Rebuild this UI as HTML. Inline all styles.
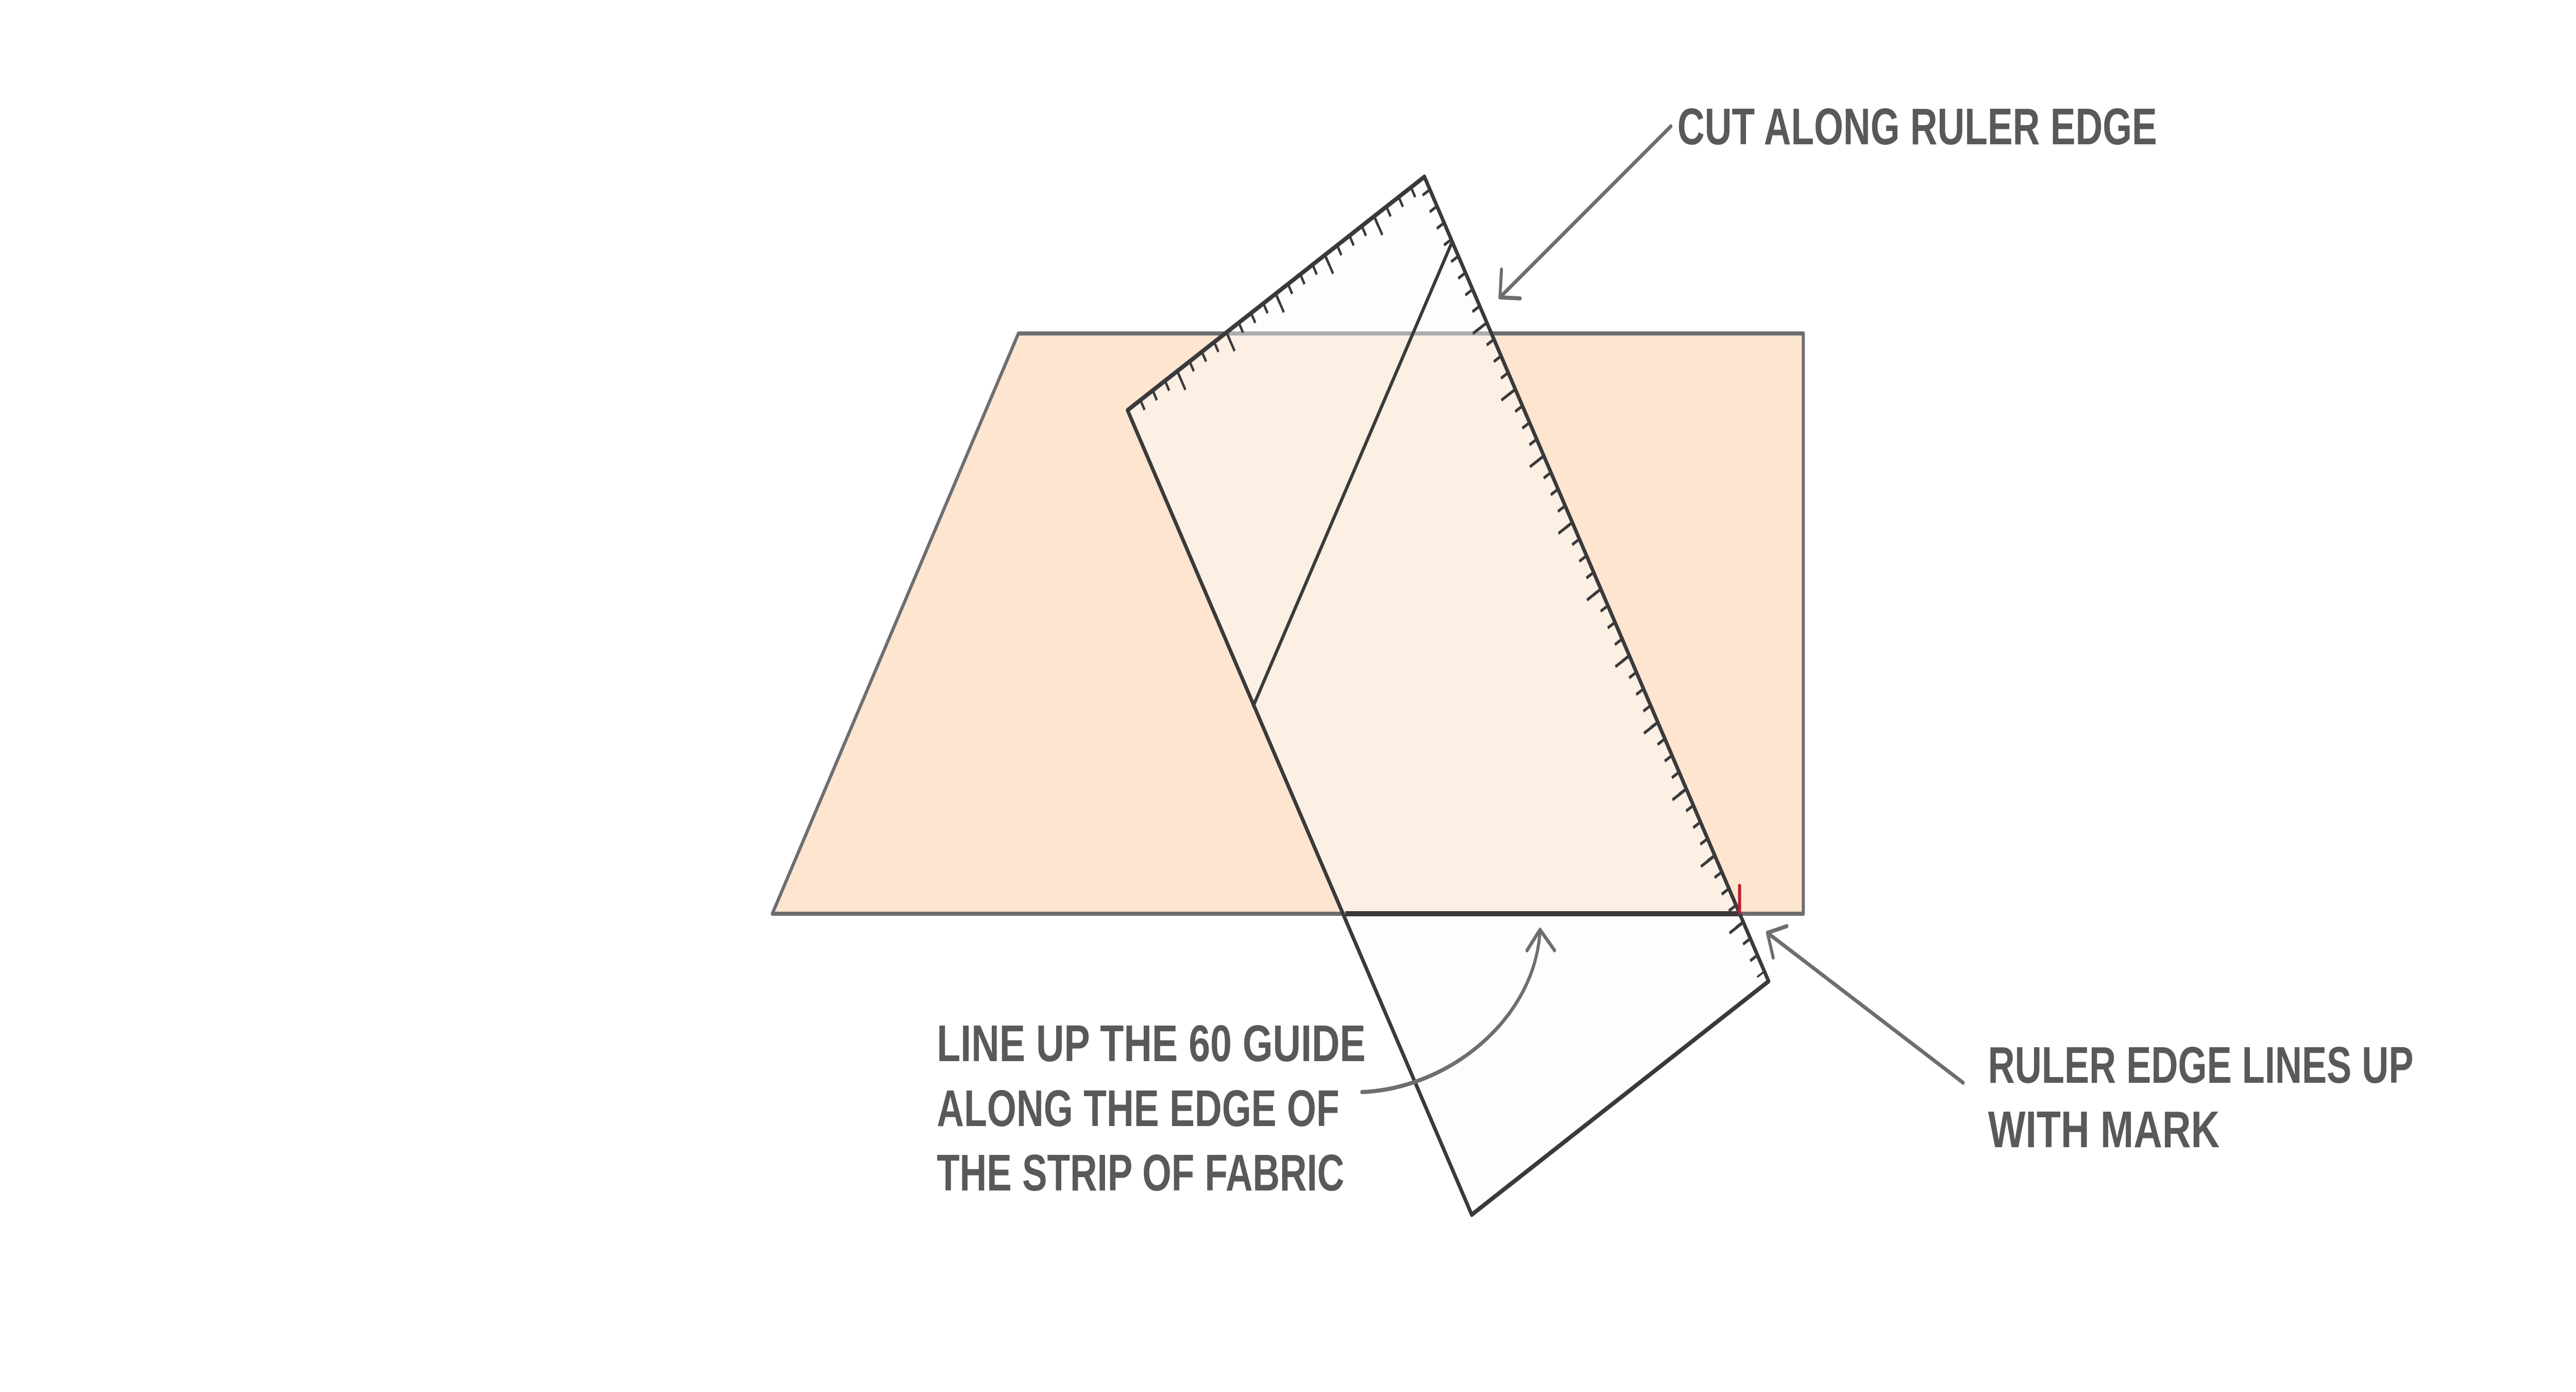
<!DOCTYPE html>
<html><head><meta charset="utf-8"><style>
html,body{margin:0;padding:0;background:#fff;width:100%;height:100%;overflow:hidden}
svg{display:block;width:100vw;height:100vh}
text{font-family:"Liberation Sans",sans-serif;font-weight:bold;fill:#58595b;font-size:100px}
</style></head><body>
<svg viewBox="0 0 6751 2701" preserveAspectRatio="none" xmlns="http://www.w3.org/2000/svg">
<rect width="6751" height="2701" fill="#fff"/>
<polygon points="2669,647 4726,647 4726,1773 2024,1773" fill="#fde5d0" stroke="#6d6e71" stroke-width="8" stroke-linejoin="round"/>
<polygon points="3733,343 4635,1904 3857,2357 2955,796" fill="#fbfbfb" fill-opacity="0.45" stroke="#3a3a3c" stroke-width="9" stroke-linejoin="round"/>
<g stroke="#3a3a3c" fill="none">
<line x1="3736.3" y1="370.7" x2="4615.5" y2="1892.2" stroke-width="22" stroke-dasharray="6 31.3"/>
<line x1="3876.7" y1="634.2" x2="4606.8" y2="1897.3" stroke-width="42" stroke-dasharray="6 143.3"/>
<line x1="2991.6" y1="787.4" x2="3721.2" y2="362.6" stroke-width="22" stroke-dasharray="6 31.3"/>
<line x1="3093.4" y1="739.7" x2="3726.2" y2="371.3" stroke-width="42" stroke-dasharray="6 143.3"/>
</g>
<line x1="3803" y1="474" x2="3285" y2="1369" stroke="#3a3a3c" stroke-width="8" stroke-linecap="round"/>
<line x1="3526" y1="1773" x2="4563" y2="1773" stroke="#3a3a3c" stroke-width="10"/>
<line x1="4559" y1="1719" x2="4559" y2="1770" stroke="#be1e2d" stroke-width="8" stroke-linecap="round"/>
<g stroke="#6d6e71" stroke-width="8" fill="none" stroke-linecap="round" stroke-linejoin="round">
<line x1="4379" y1="245" x2="3931" y2="577"/>
<polyline points="3935,523 3931,577 3984,579"/>
<line x1="5145" y1="2101" x2="4632" y2="1810"/>
<polyline points="4683,1797 4632,1810 4647,1858"/>
<path d="M3569,2119 C3800,2112 4025,1975 4036,1804"/>
<polyline points="4002,1844 4036,1804 4074,1844"/>
</g>
<text x="4396" y="280" textLength="1257" lengthAdjust="spacingAndGlyphs">CUT ALONG RULER EDGE</text>
<text x="5210" y="2101" textLength="1115" lengthAdjust="spacingAndGlyphs">RULER EDGE LINES UP</text>
<text x="5210" y="2226" textLength="607" lengthAdjust="spacingAndGlyphs">WITH MARK</text>
<text x="2455" y="2059" textLength="1124" lengthAdjust="spacingAndGlyphs">LINE UP THE 60 GUIDE</text>
<text x="2455" y="2185" textLength="1055" lengthAdjust="spacingAndGlyphs">ALONG THE EDGE OF</text>
<text x="2455" y="2310" textLength="1068" lengthAdjust="spacingAndGlyphs">THE STRIP OF FABRIC</text>
</svg>
</body></html>
